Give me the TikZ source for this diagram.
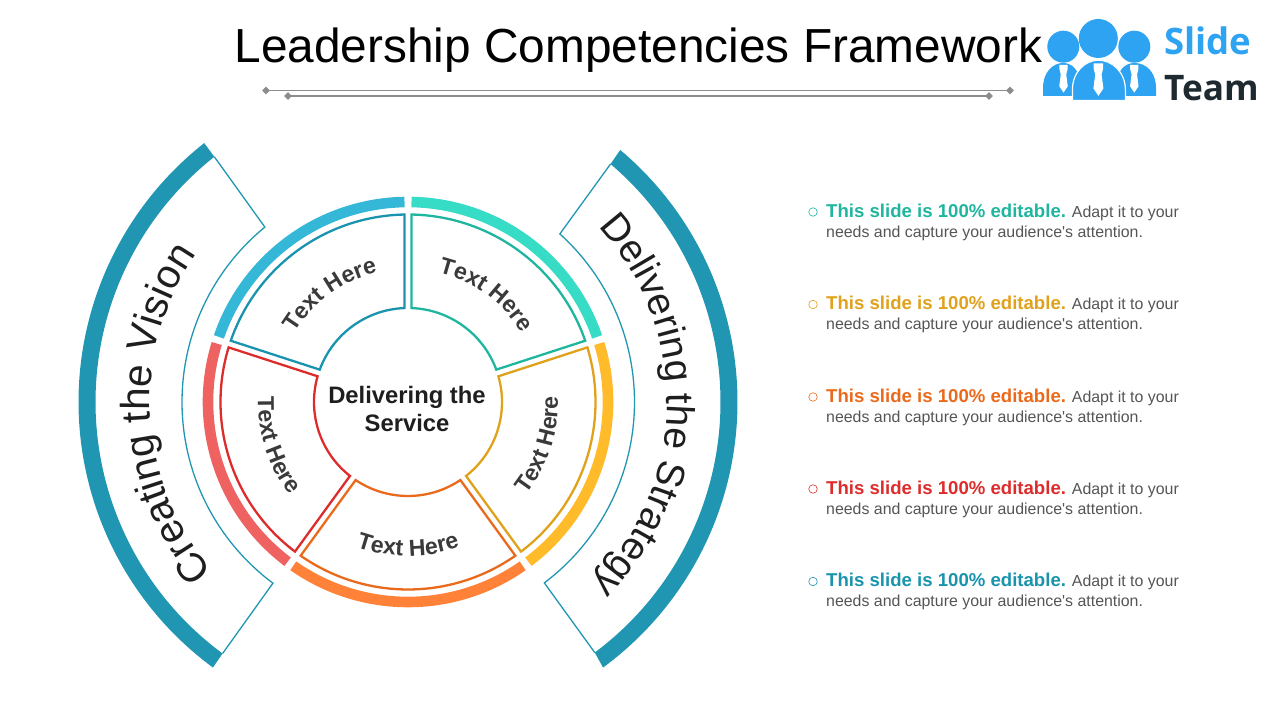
\documentclass[tikz,border=0pt]{standalone}
\usepackage{fontspec}
\setmainfont{Liberation Sans}
\newfontfamily\logofont{Open Sans}
\usetikzlibrary{shapes.geometric, decorations.text}
\definecolor{bandblue}{HTML}{2196B2}
\definecolor{ringteal}{HTML}{36DCC6}
\definecolor{ringamber}{HTML}{FFBB2A}
\definecolor{ringorange}{HTML}{FF8238}
\definecolor{ringred}{HTML}{EE6262}
\definecolor{ringblue}{HTML}{35B7D8}
\definecolor{lineteal}{HTML}{1FB59E}
\definecolor{lineamber}{HTML}{E0A11B}
\definecolor{lineorange}{HTML}{EA6A1C}
\definecolor{linered}{HTML}{DD2C2C}
\definecolor{lineblue}{HTML}{1A94AE}
\definecolor{logoblue}{HTML}{2EA3F2}
\definecolor{logodark}{HTML}{1F2A30}
\definecolor{bodygrey}{HTML}{555555}
\definecolor{herecol}{HTML}{3A3A3A}
\definecolor{bannercol}{HTML}{1E1E1E}
\newcommand{\bannerfont}{\fontsize{40.5}{45}\selectfont\color{bannercol}}
\newcommand{\bannerfontb}{\fontsize{39}{44}\selectfont\color{bannercol}}
\newcommand{\herefont}{\fontsize{23.2}{26}\selectfont\bfseries\color{herecol}}
\tikzset{
  enddot/.style={diamond, fill=gray!90, inner sep=0pt, minimum size=8pt},
  ruleline/.style={draw=gray!90, line width=1.8pt, shorten >=-2pt, shorten <=-2pt},
  thinline/.style={draw=bandblue, line width=1.3pt},
  secline/.style={draw=#1, line width=2.3pt, line join=miter},
  ringarc/.style={draw=#1, line width=10.6pt},
  alongarc/.style={decorate, decoration={text along path, text={#1}, text align=center}},
  bulletdot/.style={circle, draw=#1, line width=0.6pt, minimum size=8.5pt, inner sep=0pt},
  bullettext/.style={anchor=west, align=left, inner sep=0pt, text=bodygrey, font=\fontsize{15.9}{20}\selectfont}
}
\begin{document}
\begin{tikzpicture}[x=1pt,y=1pt]
\useasboundingbox (0,0) rectangle (1280,720);
\node[anchor=base, font=\fontsize{47.8}{52}\selectfont] (title) at (638.5,657) {Leadership Competencies Framework};
\node[enddot] (rulea) at (266,629.5) {};
\node[enddot] (ruleb) at (1010,629.5) {};
\node[enddot] (rulec) at (288,624) {};
\node[enddot] (ruled) at (989,624) {};
\draw[ruleline] (rulea) -- (ruleb);
\draw[ruleline] (rulec) -- (ruled);
\begin{scope}[shift={(408,318)}]
\fill[bandblue] (128.2:329.5pt) arc[start angle=128.2, end angle=233.7, radius=329.5pt] -- (233.6:312.5pt) arc[start angle=233.6, end angle=128.3, radius=312.5pt] -- cycle;
\draw[thinline] (128.3:312.5pt) -- (129.3:226pt) arc[start angle=129.3, end angle=233.3, radius=226pt] -- (233.6:312.5pt);
\fill[bandblue] (49.9:329.5pt) arc[start angle=49.9, end angle=-53.7, radius=329.5pt] -- (-53.3:312.5pt) arc[start angle=-53.3, end angle=49.6, radius=312.5pt] -- cycle;
\draw[thinline] (49.6:312.5pt) -- (47.9:226.5pt) arc[start angle=47.9, end angle=-53, radius=226.5pt] -- (-53.3:312.5pt);
\path[alongarc={|\bannerfont|Creating the Vision}] (251:258pt) arc[start angle=251, end angle=115, radius=258pt];
\path[alongarc={|\bannerfontb|Delivering the Strategy}] (60:259pt) arc[start angle=60, end angle=-62, radius=259pt];
\foreach \ang/\ringcol/\linecol in {18/ringteal/lineteal, 90/ringblue/lineblue, 162/ringred/linered, 234/ringorange/lineorange, 306/ringamber/lineamber}{
  \draw[ringarc=\ringcol] ({\ang+1}:200pt) arc[start angle=\ang+1, end angle=\ang+71, radius=200pt];
  \draw[secline=\linecol] ({\ang+1.07}:187.5pt) arc[start angle=\ang+1.07, end angle=\ang+70.93, radius=187.5pt] -- ({\ang+69.87}:94pt) arc[start angle=\ang+69.87, end angle=\ang+2.13, radius=94pt] -- cycle;
}
\foreach \from/\upto/\rad in {180/72/133, 108/0/133, -72/36/150, -144/-36/154, 144/252/150}{
  \path[alongarc={|\herefont|Text Here}] (\from:\rad pt) arc[start angle=\from, end angle=\upto, radius=\rad pt];
}
\end{scope}
\node[align=center, text=bannercol, font=\fontsize{23.8}{28}\selectfont\bfseries] (hub) at (407,311) {Delivering the\\Service};
\foreach \i/\yy/\col in {1/508/lineteal, 2/415.5/lineamber, 3/323/lineorange, 4/231/linered, 5/138.5/lineblue}{
  \node[bulletdot=\col] (dot\i) at (813,\yy) {};
  \node[bullettext] (txt\i) at (826,\yy-10.3) {{\color{\col}\bfseries\fontsize{18.6}{20}\selectfont This slide is 100\% editable.} Adapt it to your\\needs and capture your audience\textquotesingle s attention.};
}
\begin{scope}[shift={(0,720)},yscale=-1]
\fill[logoblue] (1063.3,46.7) circle (16);
\fill[logoblue] (1134.3,46.7) circle (16);
\fill[logoblue] (1043,96) -- (1043,88) .. controls (1043,72) and (1053,63) .. (1063,63) .. controls (1072,63) and (1078,70) .. (1079,78) -- (1079,96) -- cycle;
\fill[logoblue] (1156,96) -- (1156,88) .. controls (1156,72) and (1146,63) .. (1134.5,63) .. controls (1125,63) and (1119,70) .. (1118,78) -- (1118,96) -- cycle;
\filldraw[fill=logoblue, draw=white, line width=1.2pt] (1072.4,100.5) -- (1072.4,90) .. controls (1072.4,72) and (1085,60.2) .. (1098.5,60.2) .. controls (1112,60.2) and (1125.4,72) .. (1125.4,90) -- (1125.4,100.5) -- cycle;
\fill[logoblue] (1098.3,38.5) circle (19.5);
\foreach \tx/\ty/\ts in {1098.4/63.5/1, 1063.5/65/0.85, 1134.3/65/0.85}{
  \fill[white, shift={(\tx,\ty)}, scale=\ts] (-4.8,0) -- (4.8,0) -- (4.8,5) -- (3.2,11) -- (5,25) -- (0,32.5) -- (-5,25) -- (-3.2,11) -- (-4.8,5) -- cycle;
}
\end{scope}
\node[anchor=base west, inner sep=0pt, text=logoblue, font=\logofont\fontsize{36.5}{40}\selectfont\bfseries] (slide) at (1164,665.5) {Slide};
\node[anchor=base west, inner sep=0pt, text=logodark, font=\logofont\fontsize{35.2}{40}\selectfont\bfseries] (team) at (1164,619.5) {Team};
\end{tikzpicture}
\end{document}
